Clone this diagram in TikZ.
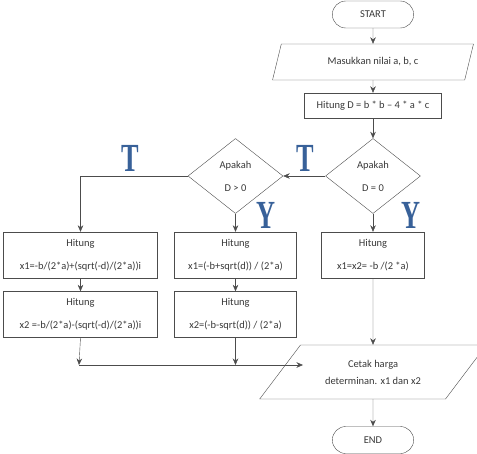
\documentclass[tikz,border=0pt]{standalone}
\usepackage{fontspec}
\setmainfont{Carlito}
\newfontfamily\artfont{Liberation Serif}
\usetikzlibrary{positioning, arrows, arrows.meta, shapes.geometric, shapes.misc}
\definecolor{linegray}{rgb}{0.3,0.3,0.3}
\definecolor{textgray}{rgb}{0.22,0.22,0.22}
\definecolor{artblue}{rgb}{0.22,0.38,0.60}
\tikzset{
    ->, % Directed edges
    >={Stealth[length=6.5bp, width=5.5bp]}, % Small filled arrowheads
    x=1bp, y=-1bp, % Pixel units, y going down
    line width=0.6pt,
    every node/.style={font=\fontsize{10.5}{12.5}\selectfont, text=textgray},
    terminal/.style={rounded rectangle, draw=linegray, minimum width=88bp, minimum height=27bp},
    inout/.style={trapezium, draw=linegray, trapezium stretches=true, align=center},
    box/.style={rectangle, draw=linegray, minimum height=46bp, align=center},
    decision/.style={diamond, draw=linegray, minimum width=95bp, minimum height=75bp, inner sep=0pt, align=center},
    answer/.style={font=\artfont\bfseries\fontsize{40}{40}\selectfont, text=artblue, xscale=0.66, transform shape},
}

\begin{document}
\begin{tikzpicture}
    \useasboundingbox (0,0) rectangle (477,454);

    \node[terminal] (start) at (373,14.5) {START};
    \node[inout, trapezium left angle=73, trapezium right angle=107, minimum width=201bp, minimum height=36bp]
        (input) [below of=start, node distance=47.5bp] {Masukkan nilai a, b, c};
    \node[rectangle, draw=linegray, minimum width=137bp, minimum height=25bp]
        (hitD) [below of=input, node distance=43.5bp] {Hitung D = b * b -- 4 * a * c};
    \node[decision] (d0) [below of=hitD, node distance=70.5bp] {Apakah\\[10.5bp]D = 0};
    \node[decision] (dpos) [left of=d0, node distance=137.5bp] {Apakah\\[10.5bp]D > 0};

    % cabang D = 0
    \node[box, minimum width=103bp] (c1) [below of=d0, node distance=79bp] {Hitung\\[11bp]x1=x2= -b /(2 *a)};
    % cabang D > 0
    \node[box, minimum width=122bp] (b1) [below of=dpos, node distance=79bp] {Hitung\\[11bp]x1=(-b+sqrt(d)) / (2*a)};
    \node[box, minimum width=122bp] (b2) [below of=b1, node distance=59.5bp] {Hitung\\[11bp]x2=(-b-sqrt(d)) / (2*a)};
    % cabang D < 0
    \node[box, minimum width=154bp] (a1) [left of=b1, node distance=155bp] {Hitung\\[11bp]x1=-b/(2*a)+(sqrt(-d)/(2*a))i};
    \node[box, minimum width=154bp] (a2) [below of=a1, node distance=59.5bp] {Hitung\\[11bp]x2 =-b/(2*a)-(sqrt(-d)/(2*a))i};

    \node[inout, trapezium left angle=47, trapezium right angle=133, minimum width=227bp, minimum height=54bp]
        (output) [below of=c1, node distance=117bp] {Cetak harga\\[4.5bp]determinan. x1 dan x2};
    \node[terminal] (end) [below of=output, node distance=68bp] {END};

    \coordinate (join) at (79,365);
    \coordinate (joinR) at (303,365);

    \draw[draw=linegray] (start) -- (input);
    \draw[draw=linegray] (input) -- (hitD);
    \draw[draw=linegray] (hitD) -- (d0);
    \draw[draw=linegray] (d0.west) -- (dpos.east);
    \draw[draw=linegray] (d0.south) -- (c1.north);
    \draw[draw=linegray] (dpos.south) -- (b1.north);
    \draw[draw=linegray] (dpos.west) -| (a1.north);
    \draw[draw=linegray] (b1) -- (b2);
    \draw[draw=linegray] (a1) -- (a2);
    \draw[draw=linegray] (a2.south) -- (join);
    \draw[draw=linegray] (b2.south) -- (b2.south |- join);
    \draw[draw=linegray] (join) -- (joinR);
    \draw[draw=linegray] (c1.south) -- (output.north);
    \draw[draw=linegray] (output.south) -- (end.north);

    % label T / Y
    \node[answer] (t1) at (130,158) {T};
    \node[answer] (t2) at (305,158) {T};
    \node[answer] (y1) at (266,215) {Y};
    \node[answer] (y2) at (411,215) {Y};
\end{tikzpicture}
\end{document}
